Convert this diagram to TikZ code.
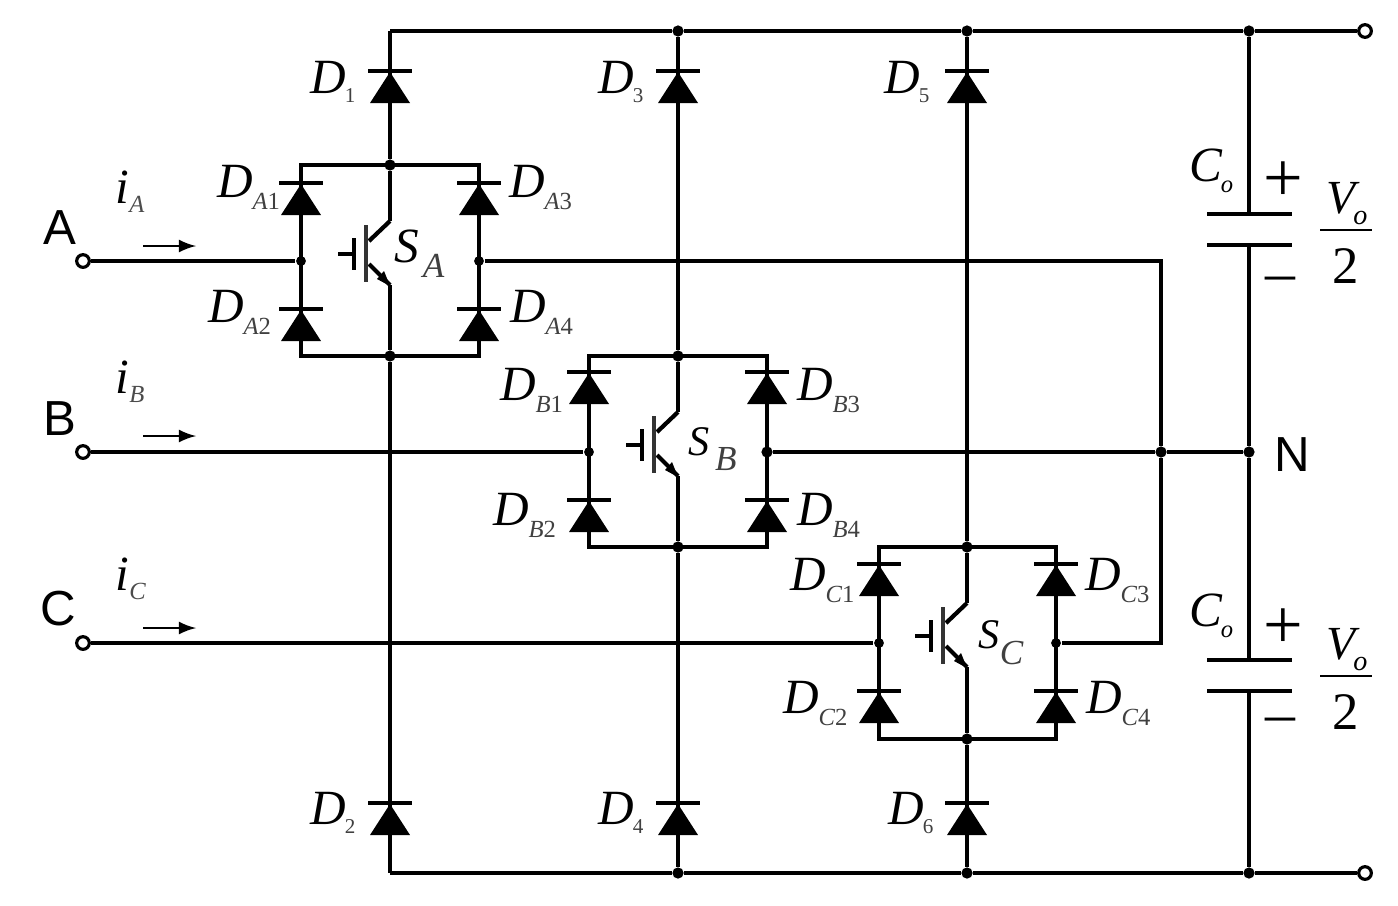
\documentclass[tikz,border=0pt]{standalone}
\usepackage{fontspec}
\setmainfont{Liberation Serif}
\newfontfamily\termfont{Liberation Sans}
\usetikzlibrary{positioning}
\newcommand{\dlab}[1]{{\fontsize{14}{15}\selectfont\textit{D}}\kern-0.2pt\raisebox{-3.6pt}{\fontsize{7}{7}\selectfont\color{black!75}#1}}
\newcommand{\dnum}[1]{{\fontsize{14}{15}\selectfont\textit{D}}\kern-0.4pt\raisebox{-2.8pt}{\fontsize{6}{6}\selectfont\color{black!75}#1}}
\newcommand{\slab}[4]{{\fontsize{#2}{15}\selectfont\textit{S}}\kern#4\raisebox{#3}{\fontsize{10}{10}\selectfont\color{black!75}\textit{#1}}}
\newcommand{\ilab}[1]{{\fontsize{14}{15}\selectfont\textit{i}}\raisebox{-2.6pt}{\fontsize{7}{7}\selectfont\color{black!70}\textit{#1}}}
\newcommand{\clab}{{\fontsize{14}{15}\selectfont\textit{C}}\kern-0.6pt\raisebox{-3.2pt}{\fontsize{7}{7}\selectfont\textit{o}}}
\newcommand{\vlab}{{\fontsize{13.5}{15}\selectfont\textit{V}}\kern-2pt\raisebox{-3.4pt}{\fontsize{8}{8}\selectfont\textit{o}}}
\tikzset{
	wire/.style={black, line width=1.2pt},
	thin wire/.style={black, line width=0.9pt},
	dot/.style={circle, fill=black, inner sep=0pt, minimum size=3.2pt},
	small dot/.style={circle, fill=black, inner sep=0pt, minimum size=2.8pt},
	term/.style={circle, draw=black, fill=white, line width=0.9pt, inner sep=0pt, minimum size=3.6pt},
	lab/.style={anchor=base west, inner sep=0pt},
	tname/.style={anchor=base, inner sep=0pt, font=\termfont\fontsize{14}{15}\selectfont},
	sign/.style={anchor=center, inner sep=0pt},
	diode/.pic={
		\fill[black] (-20,32)--(20,32)--(0,1)--cycle;
		\draw[wire] (-22,0)--(22,0);
	},
	igbt/.pic={
		\coordinate (-c) at (0,-40);
		\coordinate (-e) at (0,24);
		\draw[wire] (-c)--(-21,-20);
		\draw[wire] (-21,3)--(-e);
		\fill[black] (0,25)--(-13,18)--(-6,10)--cycle;
		\draw[line width=1.4pt, black!80] (-24,-36)--(-24,21);
		\draw[wire] (-36,-23)--(-36,9);
		\draw[wire] (-52,-7)--(-36,-7);
	},
	plate/.style={black, line width=1.2pt},
}
\begin{document}
\begin{tikzpicture}[x=0.01cm, y=-0.01cm]
	\useasboundingbox (0,0) rectangle (1398,905);

	\node[term] (tA) at (83,261) {};
	\node[term] (tB) at (83,452) {};
	\node[term] (tC) at (83,643) {};
	\node[term] (tP) at (1365,31) {};
	\node[term] (tM) at (1365,873) {};
	\coordinate (p1) at (390,31);
	\coordinate (m1) at (390,873);
	\node[dot] (p3) at (678,31) {};
	\node[dot] (p5) at (967,31) {};
	\node[dot] (pc) at (1249,31) {};
	\node[dot] (m3) at (678,873) {};
	\node[dot] (m5) at (967,873) {};
	\node[dot] (mc) at (1249,873) {};

	\node[dot] (Atop) at (390,165) {};
	\node[dot] (Abot) at (390,356) {};
	\node[small dot] (Al) at (301,261) {};
	\node[small dot] (Ar) at (479,261) {};
	\node[dot] (Btop) at (678,356) {};
	\node[dot] (Bbot) at (678,547) {};
	\node[small dot] (Bl) at (589,452) {};
	\node[dot] (Br) at (767,452) {};
	\node[dot] (Ctop) at (967,547) {};
	\node[dot] (Cbot) at (967,739) {};
	\node[small dot] (Cl) at (879,643) {};
	\node[small dot] (Cr) at (1056,643) {};
	\node[dot] (nj) at (1161,452) {};
	\node[dot] (nc) at (1249,452) {};
	\coordinate (rA) at (1161,261);
	\coordinate (rC) at (1161,643);

	\coordinate (c1t) at (1249,214);
	\coordinate (c1b) at (1249,245);
	\coordinate (c2t) at (1249,660);
	\coordinate (c2b) at (1249,691);

	\draw[wire] (p1)--(p3)--(p5)--(pc)--(tP);
	\draw[wire] (m1)--(m3)--(m5)--(mc)--(tM);
	\draw[wire] (p1)--(Atop);
	\draw[wire] (Abot)--(m1);
	\draw[wire] (p3)--(Btop);
	\draw[wire] (Bbot)--(m3);
	\draw[wire] (p5)--(Ctop);
	\draw[wire] (Cbot)--(m5);

	\draw[wire] (301,165) rectangle (479,356);
	\draw[wire] (589,356) rectangle (767,547);
	\draw[wire] (879,547) rectangle (1056,739);

	\pic (sa) at (390,261) {igbt};
	\pic (sb) at (678,452) {igbt};
	\pic (sc) at (967,643) {igbt};
	\draw[wire] (Atop)--(sa-c);
	\draw[wire] (sa-e)--(Abot);
	\draw[wire] (Btop)--(sb-c);
	\draw[wire] (sb-e)--(Bbot);
	\draw[wire] (Ctop)--(sc-c);
	\draw[wire] (sc-e)--(Cbot);

	\draw[thin wire] (tA)--(Al);
	\draw[thin wire] (Ar)--(rA)--(nj)--(rC)--(Cr);
	\draw[wire] (tB)--(Bl);
	\draw[wire] (Br)--(nj)--(nc);
	\draw[wire] (tC)--(Cl);

	\draw[wire] (pc)--(c1t);
	\draw[wire] (c1b)--(nc)--(c2t);
	\draw[wire] (c2b)--(mc);
	\draw[plate] (1207,214)--(c1t)--(1292,214);
	\draw[plate] (1207,245)--(c1b)--(1292,245);
	\draw[plate] (1207,660)--(c2t)--(1292,660);
	\draw[plate] (1207,691)--(c2b)--(1292,691);

	\pic at (390,71) {diode};
	\pic at (678,71) {diode};
	\pic at (967,71) {diode};
	\pic at (390,803) {diode};
	\pic at (678,803) {diode};
	\pic at (967,803) {diode};
	\pic at (301,183) {diode};
	\pic at (479,183) {diode};
	\pic at (301,309) {diode};
	\pic at (479,309) {diode};
	\pic at (589,372) {diode};
	\pic at (767,372) {diode};
	\pic at (589,500) {diode};
	\pic at (767,500) {diode};
	\pic at (879,564) {diode};
	\pic at (1056,564) {diode};
	\pic at (879,691) {diode};
	\pic at (1056,691) {diode};

	\node[lab] (D1) at (310,93) {\dnum{1}};
	\node[lab] (D3) at (598,93) {\dnum{3}};
	\node[lab] (D5) at (884,93) {\dnum{5}};
	\node[lab] (D2) at (310,824) {\dnum{2}};
	\node[lab] (D4) at (598,824) {\dnum{4}};
	\node[lab] (D6) at (888,824) {\dnum{6}};
	\node[lab] (DA1) at (217,197) {\dlab{\textit{A}1}};
	\node[lab] (DA3) at (509,197) {\dlab{\textit{A}3}};
	\node[lab] (DA2) at (208,322) {\dlab{\textit{A}2}};
	\node[lab] (DA4) at (510,322) {\dlab{\textit{A}4}};
	\node[lab] (DB1) at (500,400) {\dlab{\textit{B}1}};
	\node[lab] (DB3) at (797,400) {\dlab{\textit{B}3}};
	\node[lab] (DB2) at (493,525) {\dlab{\textit{B}2}};
	\node[lab] (DB4) at (797,525) {\dlab{\textit{B}4}};
	\node[lab] (DC1) at (790,590) {\dlab{\textit{C}1}};
	\node[lab] (DC3) at (1085,590) {\dlab{\textit{C}3}};
	\node[lab] (DC2) at (783,713) {\dlab{\textit{C}2}};
	\node[lab] (DC4) at (1086,713) {\dlab{\textit{C}4}};

	\node[lab] (SA) at (394,262) {\slab{A}{14}{-4.5pt}{1pt}};
	\node[lab] (SB) at (688,455) {\slab{B}{12}{-4.3pt}{1.5pt}};
	\node[lab] (SC) at (978,648) {\slab{C}{12}{-4.8pt}{0pt}};

	\node[tname] (nA) at (60,244) {A};
	\node[tname] (nB) at (60,435) {B};
	\node[tname] (nC) at (58,625) {C};
	\node[tname] (nN) at (1292,471) {N};

	\node[lab] (iA) at (115,203) {\ilab{A}};
	\node[lab] (iB) at (115,393) {\ilab{B}};
	\node[lab] (iC) at (115,590) {\ilab{C}};
	\coordinate (aA1) at (143,246);
	\coordinate (aA2) at (196,246);
	\coordinate (aB1) at (143,436);
	\coordinate (aB2) at (196,436);
	\coordinate (aC1) at (143,628);
	\coordinate (aC2) at (196,628);
	\draw[black, line width=0.7pt, -latex] (aA1)--(aA2);
	\draw[black, line width=0.7pt, -latex] (aB1)--(aB2);
	\draw[black, line width=0.7pt, -latex] (aC1)--(aC2);

	\node[lab] (Co1) at (1189,181) {\clab};
	\node[lab] (Co2) at (1189,626) {\clab};
	\node[sign] (pl1) at (1283,182) {\fontsize{20}{20}\selectfont +};
	\node[sign] (mi1) at (1280,285) {\fontsize{17}{17}\selectfont \char"2013};
	\node[sign] (pl2) at (1283,629) {\fontsize{20}{20}\selectfont +};
	\node[sign] (mi2) at (1280,726) {\fontsize{17}{17}\selectfont \char"2013};

	\node[lab] (V1) at (1326,213) {\vlab};
	\coordinate (f1a) at (1320,230);
	\coordinate (f1b) at (1372,230);
	\draw[black, line width=0.8pt] (f1a)--(f1b);
	\node[anchor=base, inner sep=0pt, font=\fontsize{15}{15}\selectfont] (two1) at (1346,283) {2};
	\node[lab] (V2) at (1326,659) {\vlab};
	\coordinate (f2a) at (1320,676);
	\coordinate (f2b) at (1372,676);
	\draw[black, line width=0.8pt] (f2a)--(f2b);
	\node[anchor=base, inner sep=0pt, font=\fontsize{15}{15}\selectfont] (two2) at (1346,729) {2};
\end{tikzpicture}
\end{document}
